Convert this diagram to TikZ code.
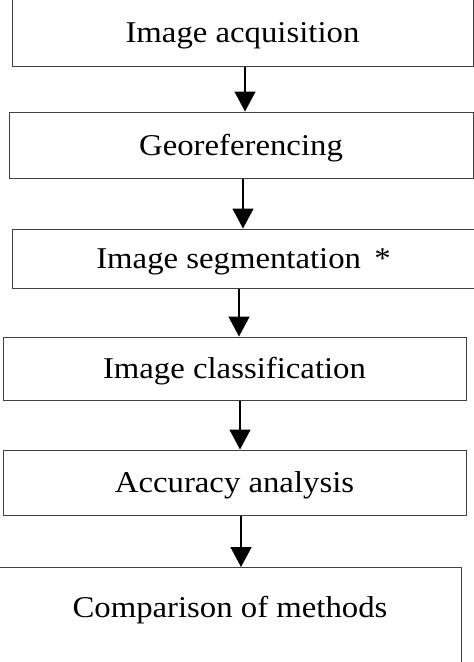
\documentclass[tikz,border=0pt]{standalone}
\usepackage{fontspec}
\setmainfont{Liberation Serif}[FakeStretch=1.085]
\usetikzlibrary{arrows.meta}
\begin{document}
\begin{tikzpicture}[x=1pt,y=1pt,
  box/.style={draw=black!75, line width=1pt, rectangle, inner sep=0pt, align=center,
    text height=20pt, text depth=0pt,
    font=\fontsize{30.2}{36}\selectfont},
  lbl/.style={inner sep=0pt, text height=20pt, text depth=0pt, font=\fontsize{30.2}{36}\selectfont},
  arr/.style={draw=black, line width=1.5pt, -{Triangle[width=21pt,length=20pt]}, shorten >=0pt}
]
\clip (0,0) rectangle (474,-662);
\fill[white] (0,0) rectangle (474,-662);

\node[box, minimum width=461pt, minimum height=68pt] (n1) at (242.5,-32) {Image acquisition};
\node[box, minimum width=464pt, minimum height=66pt] (n2) at (241,-145) {Georeferencing};
\node[box, minimum width=463pt, minimum height=59pt] (n3) at (243.5,-258.5) {Image segmentation \,*};
\node[box, minimum width=463pt, minimum height=63pt] (n4) at (234.5,-368.5) {Image classification};
\node[box, minimum width=463pt, minimum height=65pt] (n5) at (234.5,-482.5) {Accuracy analysis};
\node[lbl] (n6) at (230,-607) {Comparison of methods};
\coordinate (b6tl) at (-1,-567);
\coordinate (b6tr) at (461,-567);
\coordinate (b6bl) at (-1,-680);
\coordinate (b6br) at (461,-680);
\draw[black!75, line width=1pt] (b6bl) -- (b6tl) -- (b6tr) -- (b6br);

\coordinate (x1) at (245,0);
\coordinate (x2) at (243,0);
\coordinate (x3) at (239,0);
\coordinate (x4) at (240,0);
\coordinate (x5) at (241,0);
\draw[arr] (n1.south -| x1) -- (n2.north -| x1);
\draw[arr] (n2.south -| x2) -- (n3.north -| x2);
\draw[arr] (n3.south -| x3) -- (n4.north -| x3);
\draw[arr] (n4.south -| x4) -- (n5.north -| x4);
\draw[arr] (n5.south -| x5) -- (b6tl -| x5);
\end{tikzpicture}
\end{document}
